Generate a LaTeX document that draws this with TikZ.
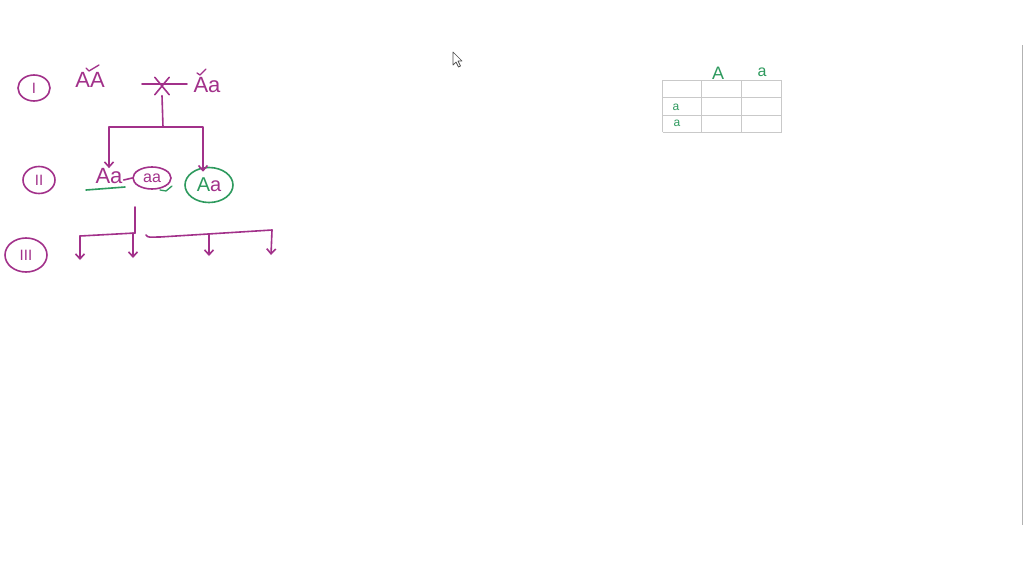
\documentclass[tikz,border=0pt]{standalone}
\usepackage{fontspec}
\setmainfont{Liberation Sans}
\usetikzlibrary{arrows.meta,shapes.geometric,calc}
\definecolor{mag}{HTML}{A2318A}
\definecolor{grn}{HTML}{2E9A5E}
\definecolor{grid}{HTML}{C9C9C9}
\begin{document}
\begin{tikzpicture}[x=1pt,y=-1pt,
  ink/.style={draw=mag, line width=1.6pt, line cap=round, line join=round},
  gink/.style={draw=grn, line width=1.6pt, line cap=round, line join=round},
  arr/.style={ink, -{Straight Barb[length=5pt,width=9pt]}},
  gen/.style={inner sep=0pt, text=mag, font=\fontsize{22}{22}\selectfont},
  small/.style={inner sep=0pt, text=mag, font=\fontsize{16}{16}\selectfont},
  numc/.style={ellipse, draw=mag, line width=1.6pt, inner sep=0pt, text=mag, font=\fontsize{15}{15}\selectfont},
  tab/.style={inner sep=0pt, text=grn},
  gridline/.style={draw=grid, line width=0.9pt}]
\useasboundingbox (0,0) rectangle (1024,576);
\fill[white] (0,0) rectangle (1024,576);

% generation I
\node[numc, minimum width=32pt, minimum height=26pt] (n1) at (34,88) {I};
\node[gen] (p1) at (90,80) {AA};
\draw[ink, line width=1.3pt] (86,68) -- (89,71) -- (99,65);
\node[inner sep=0pt, minimum width=14pt, minimum height=17pt] (x) at (162,86) {};
\draw[ink] (x.north west) -- (x.south east);
\draw[ink] (x.north east) -- (x.south west);
\coordinate (xl) at (142,84);
\coordinate (xr) at (187,84);
\draw[ink] (xl) -- (xr);
\node[gen] (p2) at (207,85) {Aa};
\draw[ink, line width=1.3pt] (197,73) -- (200,75) -- (206,69);

% generation II
\node[numc, minimum width=32pt, minimum height=27pt] (n2) at (39,180) {II};
\node[gen] (c1) at (109,176) {Aa};
\draw[gink] (86,190) -- (125,187);
\node[small, ellipse, draw=mag, line width=1.6pt, minimum width=38pt, minimum height=22pt] (c2) at (152,178) {aa};
\draw[ink] (c1.east) ++(1,4) -- (c2.west);
\draw[gink, line width=1.3pt] (160,190) -- (166,191) -- (172,186);
\node[ellipse, draw=grn, line width=1.6pt, minimum width=48pt, minimum height=35pt, inner sep=0pt, font=\fontsize{20}{20}\selectfont] (c3) at (209,185) {\textcolor{grn}{A}\textcolor{mag}{a}};

\coordinate (j1) at (163,127);
\draw[ink] (x.south) ++(0,1) -- (j1);
\draw[arr] (j1) -| (c1.north);
\draw[arr] (j1) -| ($(c3.north)+(-6,5)$);

% generation III
\node[numc, minimum width=42pt, minimum height=34pt] (n3) at (26,255) {III};
\coordinate (j2) at (135,207);
\coordinate (j3) at (135,233);
\draw[ink] (j2) -- (j3);
\coordinate (l1) at (80,236);
\coordinate (d1) at (80,260);
\coordinate (d2) at (133,258);
\draw[ink] (l1) -- (j3);
\draw[arr] (l1) -- (d1);
\draw[arr] (133,233) -- (d2);
\coordinate (r0) at (146,235);
\coordinate (r1) at (272,230);
\coordinate (d3) at (209,256);
\coordinate (d4) at (271,255);
\draw[ink] (r0) .. controls (148,238) and (150,237) .. (160,237) -- (r1);
\draw[arr] (209,234) -- (d3);
\draw[arr] (r1) -- (d4);

% Punnett table
\foreach \xx in {662.5,701.5,741.5,781.5} \draw[gridline] (\xx,80) -- (\xx,132);
\foreach \yy in {80,97.5,115,132} \draw[gridline] (662.5,\yy) -- (781.5,\yy);
\node[tab, font=\fontsize{18}{18}\selectfont] (hA) at (718,73) {A};
\node[tab, font=\fontsize{16}{16}\selectfont] (ha) at (762,72) {a};
\node[tab, font=\fontsize{12}{12}\selectfont] (ra1) at (676,107) {a};
\node[tab, font=\fontsize{12}{12}\selectfont] (ra2) at (677,123) {a};

% cursor
\draw[black!70, fill=white, line width=0.7pt, line join=round] (453,52) -- (453,65) -- (456,62) -- (458.5,67) -- (460.5,66) -- (458,61) -- (462,61) -- cycle;

% right edge
\draw[black!30, line width=1pt] (1022.5,45) -- (1022.5,525);
\end{tikzpicture}
\end{document}
